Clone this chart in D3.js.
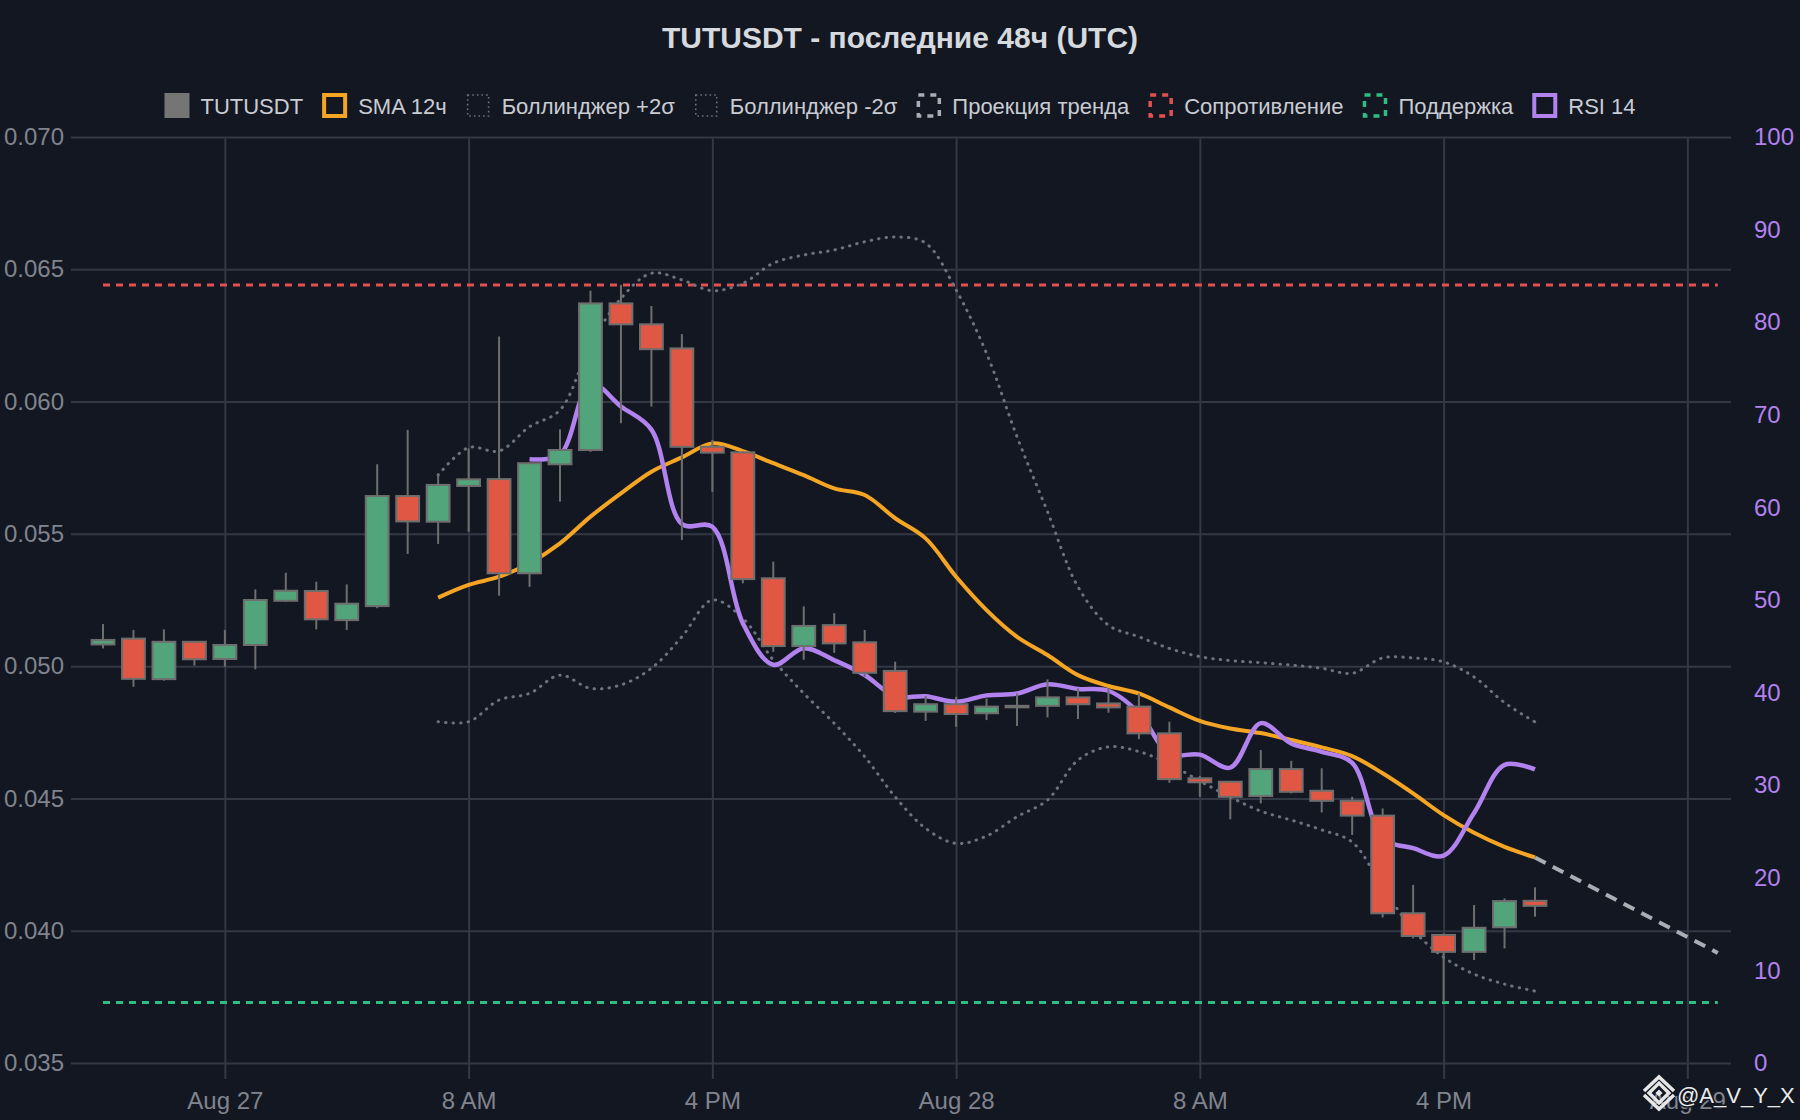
<!DOCTYPE html>
<html>
<head>
<meta charset="utf-8">
<script src="https://cdn.jsdelivr.net/npm/d3@7"></script>
<style>
  html, body { margin: 0; padding: 0; background: #131722; }
  svg text { font-family: "Liberation Sans", Arial, sans-serif; }
</style>
</head>
<body>
<svg id="chart" width="1800" height="1120"></svg>
<script>
// hourly candles, UTC
var candleTimes = [
  "2025-08-26 20:00", "2025-08-26 21:00", "2025-08-26 22:00", "2025-08-26 23:00",
  "2025-08-27 00:00", "2025-08-27 01:00", "2025-08-27 02:00", "2025-08-27 03:00",
  "2025-08-27 04:00", "2025-08-27 05:00", "2025-08-27 06:00", "2025-08-27 07:00",
  "2025-08-27 08:00", "2025-08-27 09:00", "2025-08-27 10:00", "2025-08-27 11:00",
  "2025-08-27 12:00", "2025-08-27 13:00", "2025-08-27 14:00", "2025-08-27 15:00",
  "2025-08-27 16:00", "2025-08-27 17:00", "2025-08-27 18:00", "2025-08-27 19:00",
  "2025-08-27 20:00", "2025-08-27 21:00", "2025-08-27 22:00", "2025-08-27 23:00",
  "2025-08-28 00:00", "2025-08-28 01:00", "2025-08-28 02:00", "2025-08-28 03:00",
  "2025-08-28 04:00", "2025-08-28 05:00", "2025-08-28 06:00", "2025-08-28 07:00",
  "2025-08-28 08:00", "2025-08-28 09:00", "2025-08-28 10:00", "2025-08-28 11:00",
  "2025-08-28 12:00", "2025-08-28 13:00", "2025-08-28 14:00", "2025-08-28 15:00",
  "2025-08-28 16:00", "2025-08-28 17:00", "2025-08-28 18:00", "2025-08-28 19:00"
];

var openPrices = [
  0.05082, 0.05104, 0.04951, 0.05092, 0.05027, 0.05080, 0.05247, 0.05284,
  0.05174, 0.05227, 0.05643, 0.05546, 0.05681, 0.05707, 0.05351, 0.05763,
  0.05817, 0.06371, 0.06292, 0.06201, 0.05829, 0.05808, 0.05332, 0.05076,
  0.05155, 0.05090, 0.04982, 0.04828, 0.04856, 0.04822, 0.04850, 0.04850,
  0.04882, 0.04859, 0.04847, 0.04746, 0.04576, 0.04563, 0.04509, 0.04611,
  0.04529, 0.04491, 0.04435, 0.04066, 0.03984, 0.03920, 0.04013, 0.04113
];
var highPrices = [
  0.05159, 0.05137, 0.05139, 0.05095, 0.05137, 0.05290, 0.05353, 0.05319,
  0.05309, 0.05763, 0.05893, 0.05729, 0.05823, 0.06246, 0.05767, 0.05895,
  0.06419, 0.06441, 0.06361, 0.06255, 0.05855, 0.05812, 0.05395, 0.05226,
  0.05200, 0.05137, 0.05017, 0.04887, 0.04884, 0.04878, 0.04897, 0.04950,
  0.04916, 0.04916, 0.04897, 0.04790, 0.04585, 0.04566, 0.04683, 0.04642,
  0.04614, 0.04506, 0.04462, 0.04173, 0.03990, 0.04097, 0.04122, 0.04164
];
var lowPrices = [
  0.05067, 0.04922, 0.04945, 0.05002, 0.04998, 0.04988, 0.05243, 0.05139,
  0.05137, 0.05219, 0.05424, 0.05462, 0.05508, 0.05266, 0.05300, 0.05622,
  0.05810, 0.05918, 0.05981, 0.05477, 0.05659, 0.05313, 0.05054, 0.05024,
  0.05050, 0.04960, 0.04823, 0.04793, 0.04771, 0.04796, 0.04774, 0.04806,
  0.04800, 0.04824, 0.04724, 0.04559, 0.04506, 0.04421, 0.04481, 0.04519,
  0.04447, 0.04362, 0.04050, 0.03971, 0.03731, 0.03889, 0.03933, 0.04053
];
var closePrices = [
  0.05099, 0.04952, 0.05092, 0.05026, 0.05080, 0.05250, 0.05285, 0.05177,
  0.05236, 0.05643, 0.05547, 0.05685, 0.05706, 0.05351, 0.05767, 0.05817,
  0.06371, 0.06292, 0.06198, 0.05829, 0.05807, 0.05329, 0.05076, 0.05152,
  0.05086, 0.04975, 0.04830, 0.04856, 0.04819, 0.04847, 0.04850, 0.04882,
  0.04856, 0.04844, 0.04746, 0.04573, 0.04561, 0.04506, 0.04611, 0.04525,
  0.04491, 0.04435, 0.04066, 0.03980, 0.03920, 0.04011, 0.04112, 0.04094
];

// indicators, aligned with candleTimes (null = not yet defined)
var smaValues = [
  null, null, null, null, null, null, null, null, null, null, null,
  0.05259, 0.05307, 0.05338, 0.05389, 0.05464, 0.05565, 0.05653, 0.05735,
  0.05789, 0.05842, 0.05813, 0.05767, 0.05722, 0.05672, 0.05647, 0.05559,
  0.05483, 0.05338, 0.05212, 0.05111, 0.05042, 0.04966, 0.04925, 0.04897,
  0.04844, 0.04793, 0.04764, 0.04747, 0.04721, 0.04693, 0.04660, 0.04595,
  0.04519, 0.04437, 0.04370, 0.04317, 0.04277
];
var bollUpper = [
  null, null, null, null, null, null, null, null, null, null, null,
  0.05722, 0.05826, 0.05813, 0.05905, 0.05968, 0.06214, 0.06390, 0.06485,
  0.06460, 0.06419, 0.06447, 0.06523, 0.06554, 0.06573, 0.06604, 0.06622,
  0.06599, 0.06422, 0.06182, 0.05867, 0.05584, 0.05300, 0.05155, 0.05111,
  0.05067, 0.05036, 0.05021, 0.05013, 0.05004, 0.04992, 0.04973, 0.05031,
  0.05031, 0.05016, 0.04959, 0.04862, 0.04789
];
var bollLower = [
  null, null, null, null, null, null, null, null, null, null, null,
  0.04790, 0.04790, 0.04872, 0.04897, 0.04966, 0.04916, 0.04929, 0.04992,
  0.05111, 0.05250, 0.05181, 0.05023, 0.04897, 0.04784, 0.04658, 0.04506,
  0.04387, 0.04330, 0.04358, 0.04431, 0.04494, 0.04645, 0.04695, 0.04677,
  0.04630, 0.04566, 0.04505, 0.04452, 0.04418, 0.04381, 0.04335, 0.04165,
  0.04003, 0.03900, 0.03836, 0.03798, 0.03772
];
var rsiValues = [
  null, null, null, null, null, null, null, null, null, null, null, null, null, null,
  65.2, 65.7, 73.4, 70.9, 68.4, 58.2, 57.9, 47.5, 43.0, 44.8,
  43.5, 41.9, 39.6, 39.6, 39.0, 39.7, 39.9, 40.9, 40.4, 40.2,
  37.8, 33.4, 33.3, 31.9, 36.7, 34.5, 33.6, 32.4, 24.3, 23.2,
  22.4, 27.0, 32.2, 31.7
];

var projTimes = ["2025-08-28 19:00", "2025-08-29 01:00"];
var projValues = [0.04277, 0.03916];

var levelTimes = ["2025-08-26 20:00", "2025-08-29 01:00"];
var resistanceLevel = [0.06441, 0.06441];
var supportLevel = [0.03729, 0.03729];

var priceTicks = [0.035, 0.040, 0.045, 0.050, 0.055, 0.060, 0.065, 0.070];
var rsiTicks = [0, 10, 20, 30, 40, 50, 60, 70, 80, 90, 100];
var xTickTimes = ["2025-08-27 00:00", "2025-08-27 08:00", "2025-08-27 16:00",
                  "2025-08-28 00:00", "2025-08-28 08:00", "2025-08-28 16:00", "2025-08-29 00:00"];
var xTickLabels = ["Aug 27", "8 AM", "4 PM", "Aug 28", "8 AM", "4 PM", "Aug 29"];

var titleText = "TUTUSDT - последние 48ч (UTC)";
var legendLabels = ["TUTUSDT", "SMA 12ч", "Боллинджер +2σ", "Боллинджер -2σ",
                    "Проекция тренда", "Сопротивление", "Поддержка", "RSI 14"];

// ---- drawing ----
var parseTime = d3.utcParse("%Y-%m-%d %H:%M");
var W = 1800, H = 1120;
var plot = { left: 71, right: 1731, top: 137, bottom: 1063 };
var FONT = "'Liberation Sans', Arial, sans-serif";

var colors = {
  bg: "#131722", grid: "#333845", tick: "#80848e",
  up: "#52a47a", down: "#e05844", candleLine: "#6e6e6e",
  sma: "#f5a524", band: "#6c727e", proj: "#a9adb4",
  resist: "#e2514f", support: "#2ebd85", rsi: "#b282ee"
};

var svg = d3.select("#chart");
svg.append("rect").attr("width", W).attr("height", H).attr("fill", colors.bg);

var x = d3.scaleUtc()
  .domain([parseTime("2025-08-26 18:57"), parseTime("2025-08-29 01:26")])
  .range([plot.left, plot.right]);
var y = d3.scaleLinear().domain([0.035, 0.070]).range([plot.bottom, plot.top]);
var yRsi = d3.scaleLinear().domain([0, 100]).range([plot.bottom, plot.top]);

function styleAxis(g, textColor, withLines) {
  g.attr("font-family", FONT).attr("font-size", 24);
  g.select(".domain").remove();
  if (withLines) g.selectAll("line").attr("stroke", colors.grid).attr("stroke-width", 2);
  g.selectAll("text").attr("fill", textColor);
}

// axes + grid
var yAxis = d3.axisLeft(y)
  .tickValues(priceTicks)
  .tickFormat(d3.format(".3f"))
  .tickSize(-(plot.right - plot.left))
  .tickPadding(7);
svg.append("g")
  .attr("transform", "translate(" + plot.left + ",0)")
  .call(yAxis)
  .call(styleAxis, colors.tick, true);

var xAxis = d3.axisBottom(x)
  .tickValues(xTickTimes.map(parseTime))
  .tickFormat(function(d, i) { return xTickLabels[i]; })
  .tickSize(-(1079 - plot.top))
  .tickPadding(13);
svg.append("g")
  .attr("transform", "translate(0,1079)")
  .call(xAxis)
  .call(styleAxis, colors.tick, true);

var rAxis = d3.axisRight(yRsi)
  .tickValues(rsiTicks)
  .tickSize(0)
  .tickPadding(23);
svg.append("g")
  .attr("transform", "translate(" + plot.right + ",0)")
  .call(rAxis)
  .call(styleAxis, colors.rsi, false);

// clip
svg.append("clipPath").attr("id", "plotclip")
  .append("rect").attr("x", plot.left).attr("y", plot.top)
  .attr("width", plot.right - plot.left).attr("height", plot.bottom - plot.top);
var layer = svg.append("g").attr("clip-path", "url(#plotclip)");

var times = candleTimes.map(parseTime);

function priceLine(scale) {
  return d3.line()
    .defined(function(d) { return d != null; })
    .x(function(d, i) { return x(times[i]); })
    .y(function(d) { return scale(d); })
    .curve(d3.curveCatmullRom);
}

// support / resistance
var levelLine = d3.line()
  .x(function(d, i) { return x(parseTime(levelTimes[i])); })
  .y(function(d) { return y(d); });
layer.append("path").datum(resistanceLevel).attr("d", levelLine)
  .attr("fill", "none").attr("stroke", colors.resist).attr("stroke-width", 3)
  .attr("stroke-dasharray", "7,6");
layer.append("path").datum(supportLevel).attr("d", levelLine)
  .attr("fill", "none").attr("stroke", colors.support).attr("stroke-width", 3)
  .attr("stroke-dasharray", "7,6");

// bollinger bands
[bollUpper, bollLower].forEach(function(band) {
  layer.append("path").datum(band).attr("d", priceLine(y))
    .attr("fill", "none").attr("stroke", colors.band).attr("stroke-width", 3)
    .attr("stroke-linecap", "round").attr("stroke-dasharray", "0.5,7");
});

// SMA
layer.append("path").datum(smaValues).attr("d", priceLine(y))
  .attr("fill", "none").attr("stroke", colors.sma).attr("stroke-width", 4);

// trend projection
layer.append("path").datum(projValues)
  .attr("d", d3.line()
    .x(function(d, i) { return x(parseTime(projTimes[i])); })
    .y(function(d) { return y(d); }))
  .attr("fill", "none").attr("stroke", colors.proj).attr("stroke-width", 4)
  .attr("stroke-dasharray", "12,8");

// RSI on the right axis
layer.append("path").datum(rsiValues).attr("d", priceLine(yRsi))
  .attr("fill", "none").attr("stroke", colors.rsi).attr("stroke-width", 4.5)
  .attr("stroke-linejoin", "round");

// candles on top
var step = x(times[1]) - x(times[0]);
var bodyW = step * 0.75;
var candles = layer.selectAll("g.candle").data(times).enter().append("g").attr("class", "candle");
candles.append("line")
  .attr("x1", function(d) { return x(d); }).attr("x2", function(d) { return x(d); })
  .attr("y1", function(d, i) { return y(highPrices[i]); })
  .attr("y2", function(d, i) { return y(lowPrices[i]); })
  .attr("stroke", colors.candleLine).attr("stroke-width", 2);
candles.append("rect")
  .attr("x", function(d) { return x(d) - bodyW / 2; })
  .attr("width", bodyW)
  .attr("y", function(d, i) { return y(Math.max(openPrices[i], closePrices[i])); })
  .attr("height", function(d, i) {
    return Math.max(1.5, Math.abs(y(openPrices[i]) - y(closePrices[i])));
  })
  .attr("fill", function(d, i) { return closePrices[i] > openPrices[i] ? colors.up : colors.down; })
  .attr("stroke", colors.candleLine).attr("stroke-width", 2);

// title
svg.append("text")
  .attr("x", 900).attr("y", 48)
  .attr("text-anchor", "middle")
  .attr("font-family", FONT).attr("font-size", 30).attr("font-weight", "bold")
  .attr("fill", "#d6d9de")
  .text(titleText);

// legend
var legendKinds = [
  { kind: "fill", color: "#757575" },
  { kind: "solid", color: colors.sma },
  { kind: "dot", color: colors.band },
  { kind: "dot", color: colors.band },
  { kind: "dash", color: colors.proj },
  { kind: "dash", color: colors.resist },
  { kind: "dash", color: colors.support },
  { kind: "solid", color: colors.rsi }
];
var legend = svg.append("g");
var lx = 0;
legendLabels.forEach(function(label, i) {
  var item = legend.append("g").attr("transform", "translate(" + lx + ",0)");
  var k = legendKinds[i];
  var sym = item.append("rect").attr("x", 2).attr("y", 95).attr("width", 21).attr("height", 21);
  if (k.kind === "fill") {
    sym.attr("x", 0).attr("y", 93).attr("width", 25).attr("height", 25).attr("fill", k.color);
  } else {
    sym.attr("fill", "none").attr("stroke", k.color)
      .attr("stroke-width", k.kind === "solid" ? 4 : (k.kind === "dot" ? 1.6 : 3.5));
    if (k.kind === "dot") sym.attr("stroke-dasharray", "1.6,3");
    if (k.kind === "dash") sym.attr("stroke-dasharray", "6,6");
  }
  var t = item.append("text")
    .attr("x", 36).attr("y", 114)
    .attr("font-family", FONT).attr("font-size", 22)
    .attr("fill", "#c9ccd2")
    .text(label);
  lx += 36 + t.node().getComputedTextLength() + 19;
});
var legendWidth = lx - 19;
legend.attr("transform", "translate(" + (900 - legendWidth / 2) + ",0)");

// watermark
var wm = svg.append("g").attr("transform", "translate(1659,1093)");
wm.append("rect").attr("x", -7).attr("y", -7).attr("width", 14).attr("height", 14)
  .attr("transform", "rotate(45)").attr("fill", "none").attr("stroke", "#e6e6e6").attr("stroke-width", 3.5);
wm.append("rect").attr("x", -2.5).attr("y", -2.5).attr("width", 5).attr("height", 5)
  .attr("transform", "rotate(45)").attr("fill", "#e6e6e6");
wm.append("path").attr("d", "M-15,-2 L0,-16 L15,-2 M-15,2 L0,16 L15,2")
  .attr("fill", "none").attr("stroke", "#e6e6e6").attr("stroke-width", 3.5);
svg.append("text")
  .attr("x", 1677).attr("y", 1103)
  .attr("font-family", FONT).attr("font-size", 22)
  .attr("fill", "#ececec")
  .attr("stroke", "#131722").attr("stroke-width", 3).attr("paint-order", "stroke")
  .text("@A_V_Y_X");
</script>
</body>
</html>
